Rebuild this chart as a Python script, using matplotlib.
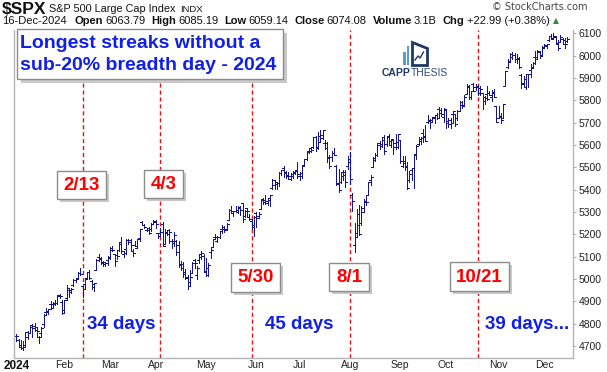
import matplotlib
matplotlib.use("Agg")
import matplotlib.pyplot as plt
from matplotlib.patches import Rectangle, Polygon
from matplotlib.lines import Line2D
import numpy as np
import pandas as pd

# ---------------- data ----------------
holidays = ["2024-01-15", "2024-02-19", "2024-03-29", "2024-05-27", "2024-06-19",
            "2024-07-04", "2024-09-02", "2024-11-28"]

opens = [
    4745,4726,4697,4690,4704,4742,4759,4792,4791,4773,4740,4760,4797,4853,4856,4888,4886,4888,4892,4925,4899,
    4862,4917,4950,4951,4974,4996,5004,5027,4967,4976,5004,5031,4990,4964,5039,5100,5094,5074,5067,5086,
    5098,5131,5110,5109,5132,5164,5112,5134,5174,5175,5124,5154,5140,5182,5254,5243,5220,5229,5226,5248,
    5258,5204,5194,5245,5158,5212,5218,5168,5172,5171,5150,5065,5069,5031,5005,4988,5028,5084,5020,5085,5114,5103,
    5030,5049,5122,5142,5188,5169,5190,5226,5233,5222,5264,5310,5303,5305,5298,5320,5340,5282,5316,5278,5260,5243,
    5297,5275,5314,5357,5344,5341,5354,5409,5441,5424,5432,5476,5499,5481,5460,5461,5461,5474,5488,
    5471,5462,5507,5537,5572,5585,5592,5636,5591,5638,5645,5610,5608,5543,5544,5566,5506,5429,5433,5477,5478,5505,
    5537,5377,5151,5206,5293,5249,5300,5349,5377,5443,5503,5531,5557,5602,5603,5637,5603,5640,5602,5624,5608,5613,
    5624,5507,5530,5507,5443,5490,5497,5558,5603,5616,5655,5642,5703,5709,5711,5727,5733,5763,5756,5727,
    5758,5698,5694,5738,5737,5719,5752,5778,5776,5829,5866,5817,5873,5860,5858,5833,5834,5813,5827,5831,5816,5835,5775,
    5723,5725,5723,5864,5947,5977,6009,6004,5985,5990,5912,5878,5859,5918,5937,5945,5993,5992,6015,6004,
    6040,6042,6069,6089,6081,6084,6057,6061,6075,6068,6064,
]
highs = [
    4754,4730,4727,4721,4764,4765,4790,4798,4802,4782,4745,4786,4842,4868,4866,4903,4898,4907,4929,4932,4907,
    4907,4975,4957,4958,5000,5001,5031,5048,4970,5003,5032,5039,4994,4984,5088,5112,5098,5080,5077,5104,
    5141,5149,5114,5127,5162,5189,5125,5180,5180,5179,5136,5170,5180,5225,5261,5246,5229,5235,5249,5264,
    5264,5208,5229,5256,5222,5219,5225,5178,5212,5176,5169,5079,5077,5046,5020,5039,5077,5089,5057,5114,5124,5110,
    5096,5073,5140,5181,5200,5192,5215,5240,5237,5250,5312,5325,5306,5325,5325,5328,5341,5311,5316,5289,5270,5280,
    5302,5299,5354,5362,5376,5361,5376,5448,5442,5433,5477,5490,5505,5482,5481,5473,5483,5490,5524,
    5480,5510,5539,5571,5583,5591,5635,5642,5656,5667,5669,5623,5614,5557,5571,5586,5509,5492,5480,5487,5487,5551,
    5567,5383,5251,5312,5330,5327,5358,5372,5435,5464,5547,5564,5608,5620,5633,5643,5642,5651,5629,5627,5647,5648,
    5624,5552,5552,5523,5484,5497,5561,5600,5636,5637,5671,5690,5734,5716,5724,5735,5741,5768,5764,5765,
    5758,5720,5723,5754,5739,5757,5797,5796,5823,5871,5870,5842,5878,5872,5867,5863,5834,5818,5862,5843,5848,5851,5775,
    5773,5741,5784,5933,5983,6012,6018,6010,6008,5994,5916,5909,5920,5920,5964,5972,6020,6026,6020,6044,
    6053,6052,6087,6099,6100,6089,6068,6093,6080,6079,6085,
]
lows = [
    4723,4700,4687,4683,4700,4730,4756,4740,4769,4747,4714,4740,4785,4844,4845,4865,4870,4882,4888,4917,4845,
    4853,4907,4918,4937,4970,4987,5000,5017,4920,4956,5001,4999,4955,4947,5039,5081,5068,5057,5059,5062,
    5089,5127,5056,5091,5124,5117,5100,5114,5158,5127,5105,5147,5138,5172,5240,5230,5216,5203,5213,5244,
    5229,5184,5194,5146,5157,5198,5160,5138,5146,5108,5052,5039,5008,4999,4953,4969,5027,5048,5002,5073,5089,5035,
    5014,5012,5092,5142,5181,5165,5183,5206,5211,5218,5264,5297,5284,5298,5297,5285,5257,5279,5280,5262,5223,5192,
    5234,5272,5314,5336,5334,5331,5328,5403,5403,5404,5416,5467,5456,5453,5447,5441,5451,5470,5451,
    5445,5452,5507,5531,5562,5570,5586,5571,5584,5620,5625,5583,5522,5497,5529,5554,5422,5391,5430,5445,5411,5491,
    5424,5303,5119,5193,5196,5240,5300,5332,5377,5420,5503,5528,5550,5583,5592,5560,5595,5603,5590,5561,5584,5586,
    5521,5503,5489,5402,5434,5441,5407,5536,5601,5604,5614,5616,5697,5675,5703,5699,5715,5722,5728,5704,
    5675,5679,5677,5703,5687,5714,5751,5764,5775,5829,5807,5808,5841,5847,5825,5825,5762,5784,5801,5823,5799,5813,5703,
    5723,5697,5722,5864,5946,5977,5987,5970,5965,5946,5853,5866,5850,5860,5903,5945,5963,5991,5990,6004,
    6032,6034,6065,6075,6078,6052,6024,6060,6050,6033,6059,
]
closes = [
    4743,4705,4689,4697,4764,4757,4783,4780,4784,4766,4739,4781,4840,4850,4865,4869,4894,4891,4928,4925,4846,
    4906,4959,4943,4954,4995,4998,5027,5022,4953,5001,5030,5006,4976,4982,5087,5089,5070,5078,5070,5096,
    5137,5131,5079,5105,5157,5124,5118,5175,5165,5150,5117,5149,5179,5225,5242,5234,5218,5204,5248,5254,
    5244,5206,5211,5147,5204,5202,5210,5161,5199,5123,5062,5051,5022,5011,4967,5011,5071,5072,5048,5100,5116,5036,
    5018,5064,5128,5181,5188,5188,5214,5223,5221,5247,5308,5297,5303,5308,5321,5307,5268,5305,5306,5267,5235,5278,
    5283,5291,5354,5353,5347,5361,5375,5421,5434,5432,5473,5487,5473,5465,5448,5469,5478,5483,5460,
    5475,5509,5537,5567,5573,5577,5634,5585,5615,5631,5667,5588,5545,5505,5564,5556,5427,5399,5459,5464,5436,5522,
    5447,5347,5186,5240,5200,5319,5344,5344,5434,5455,5543,5554,5608,5597,5621,5571,5635,5617,5626,5592,5592,5648,
    5529,5520,5503,5408,5471,5496,5554,5596,5626,5633,5635,5618,5714,5703,5719,5733,5722,5745,5738,5762,
    5709,5710,5700,5751,5696,5751,5792,5780,5815,5860,5815,5842,5841,5865,5854,5851,5797,5810,5808,5824,5833,5814,5705,
    5729,5713,5783,5929,5973,5996,6001,5984,5985,5949,5871,5894,5917,5917,5949,5969,5987,6022,5999,6032,
    6047,6050,6086,6075,6090,6053,6035,6084,6051,6051,6074,
]

month_labels = ["2024", "Feb", "Mar", "Apr", "May", "Jun", "Jul", "Aug", "Sep", "Oct", "Nov", "Dec"]
y_ticks = [4700, 4800, 4900, 5000, 5100, 5200, 5300, 5400, 5500, 5600, 5700, 5800, 5900, 6000, 6100]

event_dates = ["2024-02-13", "2024-04-03", "2024-05-30", "2024-08-01", "2024-10-21"]
event_labels = ["2/13", "4/3", "5/30", "8/1", "10/21"]
streak_labels = ["34 days", "45 days", "39 days..."]

title_lines = ["Longest streaks without a", "sub-20% breadth day - 2024"]

hdr_symbol = "$SPX"
hdr_name = "S&P 500 Large Cap Index"
hdr_exch = "INDX"
hdr_date = "16-Dec-2024"
hdr_open, hdr_high, hdr_low, hdr_close = 6063.79, 6085.19, 6059.14, 6074.08
hdr_volume = "3.1B"
hdr_chg, hdr_chg_pct = 22.99, 0.38

# ---------------- layout ----------------
W, H = 607, 372
plt.rcParams["font.family"] = ["Liberation Sans", "DejaVu Sans"]
fig = plt.figure(figsize=(W / 100, H / 100), dpi=100)
fig.patch.set_facecolor("white")

def fx(px):
    return px / W

def fy(py):
    return 1 - py / H

ax_l, ax_r, ax_t, ax_b = 13.5, 573.0, 30.0, 357.5
ax = fig.add_axes([fx(ax_l), fy(ax_b), fx(ax_r) - fx(ax_l), fy(ax_t) - fy(ax_b)])

dates = pd.bdate_range("2024-01-02", "2024-12-16", freq="C", holidays=holidays)
n = len(closes)
assert len(dates) == n == len(opens) == len(highs) == len(lows)
xi = np.arange(n)

bar_c = "#14148e"
lw_bar = 0.72
ax.vlines(xi, lows, highs, color=bar_c, lw=lw_bar, antialiased=False)
ax.hlines(opens, xi - 0.85, xi, color=bar_c, lw=lw_bar, antialiased=False)
ax.hlines(closes, xi, xi + 0.85, color=bar_c, lw=lw_bar, antialiased=False)

# x scale: index -> pixel 16.3 + 2.2856*i
px_per = 2.2856
x0px = 16.3
ax.set_xlim((ax_l - x0px) / px_per, (ax_r - x0px) / px_per)
ppu = 0.22336
ax.set_ylim(4700 - (ax_b - 346.0) / ppu, 6100 + (33.3 - ax_t) / ppu)

# vertical event lines
date_index = {d.strftime("%Y-%m-%d"): i for i, d in enumerate(dates)}
for d in event_dates:
    ax.axvline(date_index[d], color="#ee1111", lw=1.0, ls=(0, (3, 2)), zorder=1)

# month labels
month_first = [int(np.where(dates.month == m)[0][0]) for m in range(1, 13)]
ax.set_xticks(month_first)
ax.set_xticklabels(month_labels, fontsize=7.5, color="#222222")
ax.tick_params(axis="x", length=0, pad=2)
xl = ax.get_xticklabels()
xl[0].set_fontweight("bold")
xl[0].set_fontsize(8.5)
xl[0].set_color("#111111")

ax.yaxis.tick_right()
ax.set_yticks(y_ticks)
ax.set_yticklabels([str(v) for v in y_ticks], fontsize=7.5, color="#222222")
ax.tick_params(axis="y", length=2, color="#b0b0b0", pad=2)

for s in ["left", "bottom", "right"]:
    ax.spines[s].set_color("#b4b4b4")
    ax.spines[s].set_linewidth(1.0)
ax.spines["top"].set_visible(False)

# ---------------- annotations ----------------
def box(x1, y1, x2, y2, shadow=3, ec="#8c8c8c"):
    sh = Rectangle((fx(x1 + shadow), fy(y2 + shadow)), fx(x2 - x1), fy(y1) - fy(y2),
                   transform=fig.transFigure, facecolor="#c8c8c8", edgecolor="none", zorder=4)
    bx = Rectangle((fx(x1), fy(y2)), fx(x2 - x1), fy(y1) - fy(y2),
                   transform=fig.transFigure, facecolor="white", edgecolor=ec, lw=1.0, zorder=5)
    fig.add_artist(sh)
    fig.add_artist(bx)

# title box
box(17, 29, 283, 79, shadow=4)
title_c = "#1020e6"
fig.text(fx(19.5), fy(43.5), title_lines[0], fontsize=14, weight="bold", color=title_c,
         ha="left", va="center", zorder=6)
fig.text(fx(19.5), fy(65), title_lines[1], fontsize=14, weight="bold", color=title_c,
         ha="left", va="center", zorder=6)

# red date boxes
label_boxes = [(57, 171, 106, 199), (144, 170, 183, 198), (231, 263, 280, 292),
               (329, 263, 369, 291), (450, 262, 509, 291)]
for (x1, y1, x2, y2), lab in zip(label_boxes, event_labels):
    box(x1, y1, x2, y2, shadow=3)
    fig.text(fx((x1 + x2) / 2), fy((y1 + y2) / 2 + 0.5), lab, fontsize=13.5, weight="bold",
             color="#ff0000", ha="center", va="center", zorder=6)

# streak labels
streak_pos = [(87, 324.5), (265, 324.5), (485, 324.5)]
for (x, y), lab in zip(streak_pos, streak_labels):
    fig.text(fx(x), fy(y), lab, fontsize=13.5, weight="bold", color=title_c,
             ha="left", va="center", zorder=6)

# logo
navy = "#1f3866"
lb = "#5b9bd5"
fig.add_artist(Rectangle((fx(403), fy(65)), fx(2.5), fy(52) - fy(65), transform=fig.transFigure,
                         facecolor=lb, edgecolor="none", zorder=6))
fig.add_artist(Rectangle((fx(406.5), fy(65)), fx(2.5), fy(46) - fy(65), transform=fig.transFigure,
                         facecolor=lb, edgecolor="none", zorder=6))
fig.add_artist(Polygon([(fx(412), fy(42)), (fx(412), fy(64.5)), (fx(426.5), fy(64.5)),
                        (fx(426.5), fy(48)), (fx(412), fy(42))], closed=True,
                       transform=fig.transFigure, facecolor="white", edgecolor=navy, lw=2.0, zorder=6))
fig.add_artist(Line2D([fx(415), fx(418), fx(420), fx(423.5)], [fy(60), fy(56), fy(58), fy(52)],
                      transform=fig.transFigure, color=navy, lw=1.0, zorder=7))
renderer = fig.canvas.get_renderer()
t1 = fig.text(fx(382), fy(73), "CAPP", fontsize=7.5, weight="bold", color=navy,
              ha="left", va="center", zorder=6)
bb = t1.get_window_extent(renderer)
fig.text(fx(382) + bb.width / W, fy(73), "THESIS", fontsize=7.5, color="#2c4a7a",
         ha="left", va="center", zorder=6)

# ---------------- header ----------------
def seq(x, y, parts):
    for s, kw, gap in parts:
        t = fig.text(fx(x), fy(y), s, ha="left", va="center", **kw)
        b = t.get_window_extent(renderer)
        x += b.width + gap
    return x

seq(2, 9.5, [(hdr_symbol, dict(fontsize=12.5, weight="bold", color="#111111"), 3),
             (hdr_name, dict(fontsize=7.8, color="#111111"), 4),
             (hdr_exch, dict(fontsize=6.8, color="#111111"), 0)])
fig.text(fx(588), fy(7), "\u00a9 StockCharts.com", fontsize=7, color="#444444",
         ha="right", va="center", family="DejaVu Sans")

nb = dict(fontsize=8, color="#111111")
bd = dict(fontsize=8, color="#111111", weight="bold")
xend = seq(2, 21, [
    (hdr_date, nb, 8),
    ("Open", bd, 2), (f"{hdr_open:.2f}", nb, 6),
    ("High", bd, 2), (f"{hdr_high:.2f}", nb, 6),
    ("Low", bd, 2), (f"{hdr_low:.2f}", nb, 6),
    ("Close", bd, 2), (f"{hdr_close:.2f}", nb, 6),
    ("Volume", bd, 2), (hdr_volume, nb, 6),
    ("Chg", bd, 2), (f"+{hdr_chg:.2f} (+{hdr_chg_pct:.2f}%)", nb, 3),
])
fig.text(fx(xend), fy(20.5), "\u25b2", fontsize=5.5, color="#2e8b2e", ha="left", va="center",
         family="DejaVu Sans")

fig.savefig("out.png", dpi=100, facecolor="white")
